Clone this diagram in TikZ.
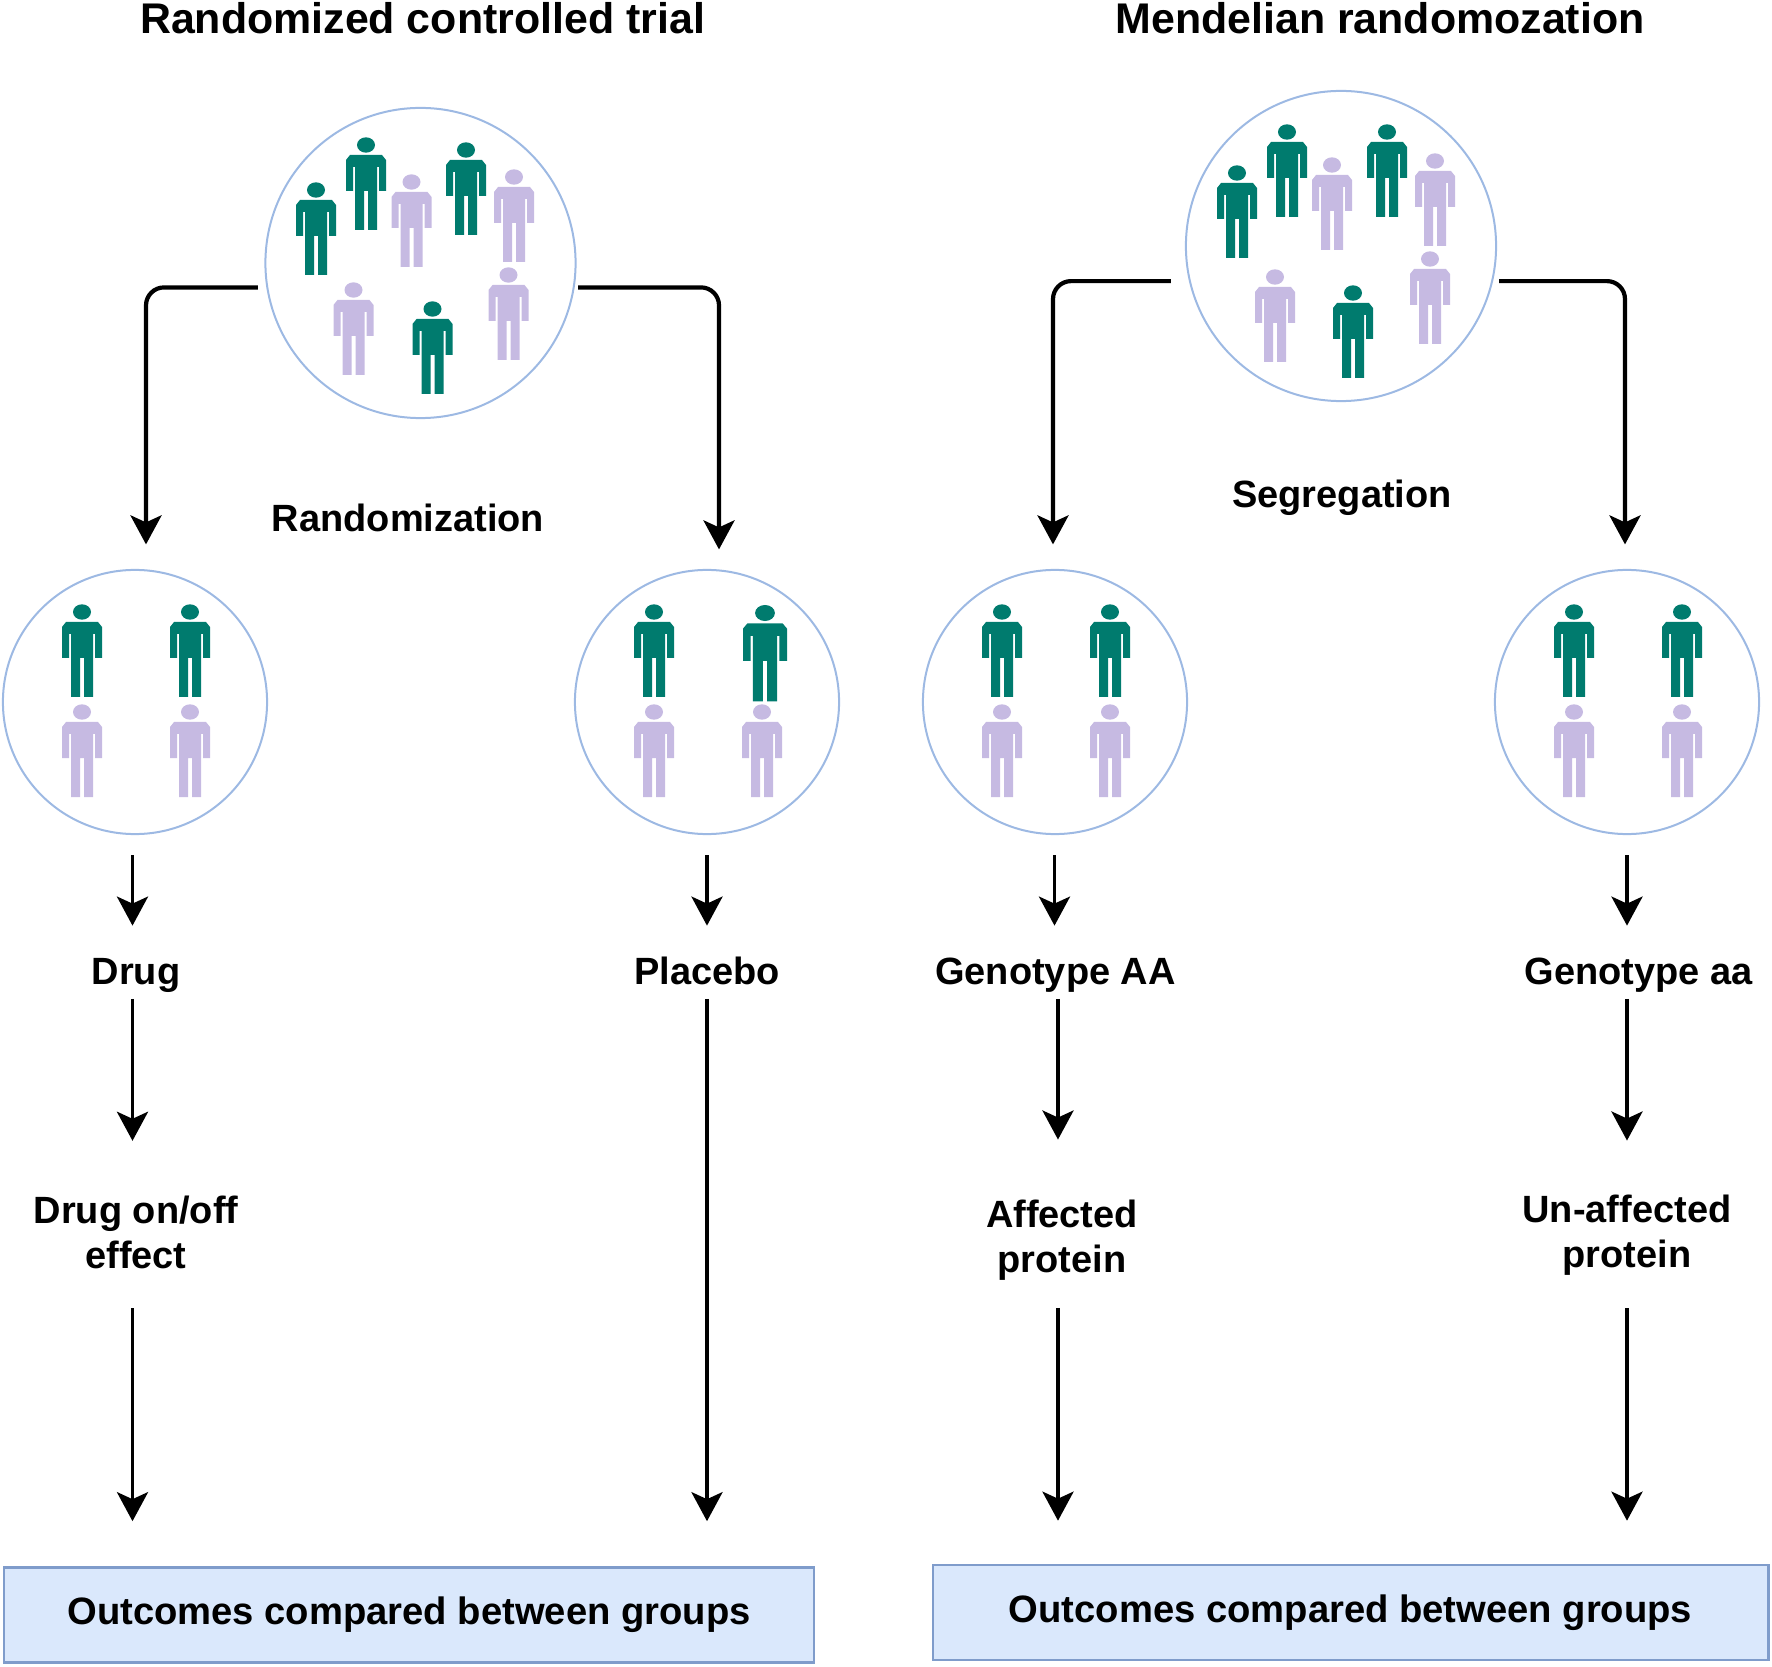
\documentclass[tikz,border=0pt]{standalone}
\usepackage{fontspec}
\setmainfont{Liberation Sans}
\usetikzlibrary{calc}
\usetikzlibrary{arrows.meta}
\definecolor{tealman}{HTML}{007B6E}
\definecolor{lilacman}{HTML}{C6BAE2}
\definecolor{ringblue}{HTML}{9DB9E3}
\definecolor{boxfill}{HTML}{DAE8FC}
\definecolor{boxline}{HTML}{7F9CCB}
\tikzset{
	flow/.style={-{Stealth[length=2.9mm,width=3.1mm,inset=.7mm]},line width=.38mm,black},
	split/.style={flow,line width=.42mm,rounded corners=1.8mm},
	ring/.style={circle,draw=ringblue,line width=.2mm,inner sep=0pt},
	biggroup/.style={ring,minimum size=3.1cm},
	smallgroup/.style={ring,minimum size=2.64cm},
	outcome/.style={draw=boxline,fill=boxfill,line width=.25mm,minimum height=.95cm,inner sep=0pt,font=\fontsize{10.86pt}{13pt}\bfseries},
	lab/.style={font=\fontsize{10.8pt}{12.8pt}\bfseries,align=center,inner sep=0pt},
	rowlab/.style={lab,anchor=base,text height=8pt,text depth=2.3pt},
	heading/.style={lab,font=\fontsize{12.2pt}{14pt}\bfseries},
	person/.pic={
		\fill[pic actions] (0,0) ellipse [x radius=9,y radius=7.7];
		\fill[pic actions] (-16,10) -- (16,10) -- (20,15) -- (20,46) -- (13,46) -- (13,22) -- (11,22) -- (11,85)
			-- (2,85) -- (2,46) -- (-2,46) -- (-2,85) -- (-11,85) -- (-11,22) -- (-13,22) -- (-13,46) -- (-20,46) -- (-20,15) -- cycle;
	},
	trio/.pic={
		\pic[fill=tealman] at (-53,-90) {person};
		\pic[fill=lilacman] at (-53,10) {person};
		\pic[fill=lilacman] at (55,10) {person};
	},
}
\begin{document}
\begin{tikzpicture}[x=.01cm,y=-.01cm]
	\useasboundingbox (0,0) rectangle (1772,1667);

	\node[heading] (titleL) at (422.5,18) {Randomized controlled trial};
	\node[heading] (titleR) at (1380,18) {Mendelian randomozation};

	\node[biggroup] (poolL) at (420.5,263) {};
	\node[biggroup] (poolR) at (1341,246) {};

	\begin{scope}[shift={(poolL)}]
		\foreach \px/\py in {-104.5/-73,-54.5/-118,45.5/-113,12/46}
			\pic[fill=tealman] at (\px,\py) {person};
		\foreach \px/\py in {-9/-81,93.5/-86,-67/27,88/12}
			\pic[fill=lilacman] at (\px,\py) {person};
	\end{scope}
	\begin{scope}[shift={(poolR)}]
		\foreach \px/\py in {-104/-73,-54/-114,46/-114,12/47}
			\pic[fill=tealman] at (\px,\py) {person};
		\foreach \px/\py in {-9/-81,94/-85,-66/31,89/13}
			\pic[fill=lilacman] at (\px,\py) {person};
	\end{scope}

	\node[lab] (randomi) at (408,518) {Randomization};
	\node[lab] (segreg) at (1342,498) {Segregation};

	\node[smallgroup] (setA) at (135,702) {};
	\node[smallgroup] (setB) at (707,702) {};
	\node[smallgroup] (setC) at (1055,702) {};
	\node[smallgroup] (setD) at (1627,702) {};

	\foreach \s in {setA,setB,setC,setD}
		\pic at (\s) {trio};
	\foreach \s in {setA,setC,setD}
		\pic[fill=tealman] at ($(\s)+(55,-90)$) {person};
	\pic[fill=tealman,xscale=1.1,yscale=1.04] at ($(setB)+(58,-89)$) {person};

	\node[rowlab] (drug) at (136,984) {Drug};
	\node[rowlab] (placebo) at (707,984) {Placebo};
	\node[rowlab] (genoAA) at (1055.5,984) {Genotype AA};
	\node[rowlab] (genoaa) at (1638.5,984) {Genotype aa};

	\node[lab] (effect) at (136,1232) {Drug on/off\\effect};
	\node[lab] (affected) at (1062,1240.5) {Affected\\protein};
	\node[lab] (unaffected) at (1627,1235.5) {Un-affected\\protein};

	\node[outcome,minimum width=8.1cm] (outL) at (409,1615) {Outcomes compared between groups};
	\node[outcome,minimum width=8.35cm] (outR) at (1350.5,1612.5) {Outcomes compared between groups};

	% from the pools to the groups
	\draw[split,shorten <=.85mm,shorten >=2.45mm] (poolL.189) -| ([xshift=1.1mm]setA.north);
	\draw[split,shorten <=.35mm,shorten >=1.95mm] (poolL.-9) -| ([xshift=1.2mm]setB.north);
	\draw[split,shorten <=1.8mm,shorten >=2.45mm] (poolR.193.4) -| ([xshift=-.2mm]setC.north);
	\draw[split,shorten <=.6mm,shorten >=2.45mm] (poolR.-13.4) -| ([xshift=-.2mm]setD.north);

	% columns of the arrows
	\coordinate (colA) at (132.5,0);
	\coordinate (colB) at (707,0);
	\coordinate (colC) at (1054.5,0);
	\coordinate (colE) at (1058,0);
	\coordinate (colD) at (1627,0);

	\draw[flow,shorten <=2mm,shorten >=2.95mm] (colA |- setA.south) -- (colA |- drug.north);
	\draw[flow,shorten <=2mm,shorten >=2.95mm] (colB |- setB.south) -- (colB |- placebo.north);
	\draw[flow,shorten <=2mm,shorten >=2.95mm] (colC |- setC.south) -- (colC |- genoAA.north);
	\draw[flow,shorten <=2mm,shorten >=2.95mm] (colD |- setD.south) -- (colD |- genoaa.north);

	\draw[flow,shorten <=.6mm,shorten >=5.4mm] (colA |- drug.south) -- (colA |- effect.north);
	\draw[flow,shorten <=.6mm,shorten >=6mm] (colE |- genoAA.south) -- (colE |- affected.north);
	\draw[flow,shorten <=.6mm,shorten >=5.4mm] (colD |- genoaa.south) -- (colD |- unaffected.north);

	\draw[flow,shorten <=3.9mm,shorten >=4.5mm] (colA |- effect.south) -- (colA |- outL.north);
	\draw[flow,shorten <=.6mm,shorten >=4.5mm] (colB |- placebo.south) -- (colB |- outL.north);
	\draw[flow,shorten <=2.65mm,shorten >=4.3mm] (colE |- affected.south) -- (colE |- outR.north);
	\draw[flow,shorten <=3.2mm,shorten >=4.3mm] (colD |- unaffected.south) -- (colD |- outR.north);
\end{tikzpicture}
\end{document}
